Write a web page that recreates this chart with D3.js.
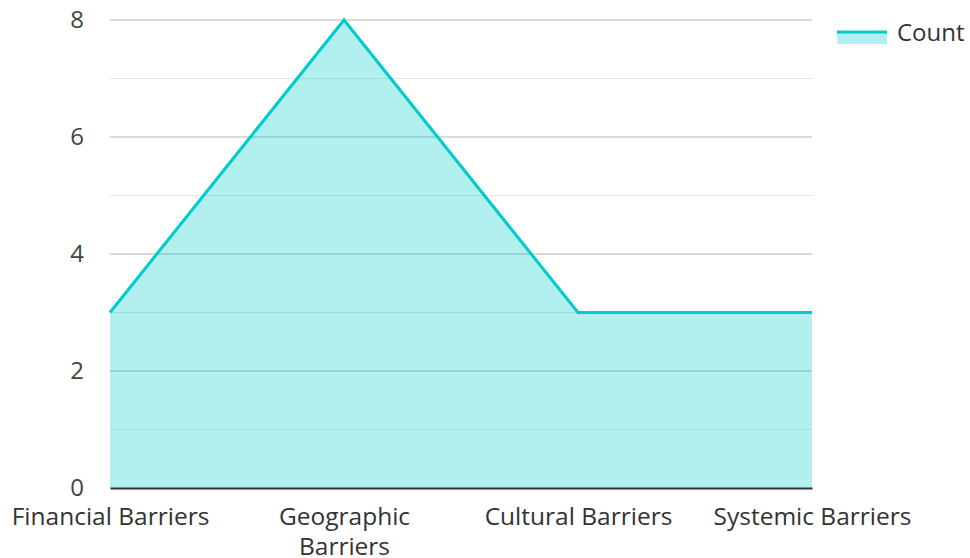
<!DOCTYPE html>
<html lang="en">
<head>
<meta charset="utf-8">
<script src="https://cdnjs.cloudflare.com/ajax/libs/d3/7.8.5/d3.min.js"></script>
<style>
  body { margin: 0; background: #fff; }
  text { font-family: "Open Sans", "Noto Sans", sans-serif; }
</style>
</head>
<body>
<div id="chart"></div>
<script>
  // chart data
  const categories = ["Financial Barriers", "Geographic Barriers", "Cultural Barriers", "Systemic Barriers"];
  const counts = [3, 8, 3, 3];
  const seriesName = "Count";
  const yTicks = [0, 2, 4, 6, 8];
  const yMinorTicks = [1, 3, 5, 7];

  const svgWidth = 970, svgHeight = 558;
  const margin = {top: 20, right: 158, bottom: 70, left: 110};
  const width = svgWidth - margin.left - margin.right;
  const height = svgHeight - margin.top - margin.bottom;

  const lineColor = "#00cccc";
  const fillColor = "rgba(0,204,204,0.3)";

  const svg = d3.select("#chart")
    .append("svg")
    .attr("width", svgWidth)
    .attr("height", svgHeight);

  const g = svg.append("g")
    .attr("transform", "translate(" + margin.left + "," + margin.top + ")");

  const x = d3.scalePoint().domain(categories).range([0, width]);
  const y = d3.scaleLinear().domain([0, 8]).range([height, 0]);

  // minor grid
  g.append("g").selectAll("line").data(yMinorTicks).enter().append("line")
    .attr("x1", 0).attr("x2", width)
    .attr("y1", d => y(d)).attr("y2", d => y(d))
    .attr("stroke", "#e6e6e6").attr("stroke-width", 1);

  // major grid
  g.append("g").selectAll("line").data(yTicks.filter(d => d > 0)).enter().append("line")
    .attr("x1", 0).attr("x2", width)
    .attr("y1", d => y(d)).attr("y2", d => y(d))
    .attr("stroke", "#cccccc").attr("stroke-width", 1.5);

  const data = categories.map((c, i) => ({cat: c, value: counts[i]}));

  g.append("path")
    .datum(data)
    .attr("fill", fillColor)
    .attr("d", d3.area().x(d => x(d.cat)).y0(y(0)).y1(d => y(d.value)));

  g.append("path")
    .datum(data)
    .attr("fill", "none")
    .attr("stroke", lineColor)
    .attr("stroke-width", 3)
    .attr("d", d3.line().x(d => x(d.cat)).y(d => y(d.value)));

  // y axis labels
  const yAxis = g.append("g")
    .call(d3.axisLeft(y).tickValues(yTicks).tickSize(0).tickPadding(26));
  yAxis.select(".domain").remove();
  yAxis.selectAll("text").attr("font-size", 24).attr("fill", "#444");

  // x axis
  const xAxis = g.append("g")
    .attr("transform", "translate(0," + height + ")")
    .call(d3.axisBottom(x).tickSize(0).tickPadding(20));
  xAxis.select(".domain").attr("stroke", "#333").attr("stroke-width", 2);
  xAxis.selectAll("text").attr("font-size", 24.5).attr("fill", "#333")
    .call(wrap, 210);

  function wrap(texts, maxW) {
    texts.each(function () {
      const t = d3.select(this);
      const words = t.text().split(/\s+/);
      const yy = t.attr("y"), dy = parseFloat(t.attr("dy"));
      t.text(null);
      let line = [], lineNo = 0;
      let span = t.append("tspan").attr("x", 0).attr("y", yy).attr("dy", dy + "em");
      words.forEach(w => {
        line.push(w);
        span.text(line.join(" "));
        if (span.node().getComputedTextLength() > maxW && line.length > 1) {
          line.pop();
          span.text(line.join(" "));
          line = [w];
          lineNo++;
          span = t.append("tspan").attr("x", 0).attr("y", yy)
            .attr("dy", (dy + lineNo * 1.22) + "em").text(w);
        }
      });
    });
  }

  // legend
  const legend = svg.append("g").attr("transform", "translate(837,32)");
  legend.append("rect").attr("x", 0).attr("y", 0).attr("width", 50).attr("height", 12)
    .attr("fill", fillColor);
  legend.append("line").attr("x1", 0).attr("x2", 50).attr("y1", 0).attr("y2", 0)
    .attr("stroke", lineColor).attr("stroke-width", 3);
  legend.append("text").attr("x", 60).attr("y", 9).attr("font-size", 24)
    .attr("fill", "#333").text(seriesName);
</script>
</body>
</html>
